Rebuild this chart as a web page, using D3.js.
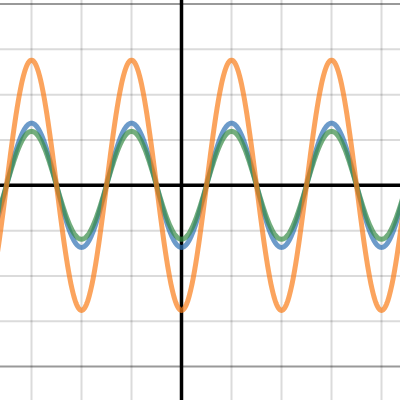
<!DOCTYPE html>
<html>
<head>
<meta charset="utf-8">
<script src="https://cdn.jsdelivr.net/npm/d3@7"></script>
<style>
  html, body { margin: 0; padding: 0; background: #fff; }
  svg { display: block; }
</style>
</head>
<body>
<div id="graph"></div>
<script>
// Series: y = -amplitude * cos(pi * x), period 2 grid units
const seriesNames = ["blue", "green", "orange"];
const seriesColors = ["#2d70b3", "#388c46", "#fa7e19"];
const amplitudes = [1.37, 1.19, 2.76];
const period = 2;

// Grid lines (in graph units)
const xMinorTicks = [-3, -2, -1, 1, 2, 3, 4];
const yMinorTicks = [-3, -2, -1, 1, 2, 3];
const yMajorTicks = [-4, 4];

const width = 400;
const height = 400;

// Scales: 50px per x unit, ~45.3px per y unit, origin at (181.5, 185.3)
const x = d3.scaleLinear()
    .domain([-181.5 / 50, (width - 181.5) / 50])
    .range([0, width]);
const y = d3.scaleLinear()
    .domain([-(height - 185.3) / 45.33, 185.3 / 45.33])
    .range([height, 0]);

const svg = d3.select('#graph')
    .append('svg')
    .attr('width', width)
    .attr('height', height);

// Minor grid
svg.append('g')
    .selectAll('line')
    .data(xMinorTicks)
    .join('line')
    .attr('x1', d => x(d)).attr('x2', d => x(d))
    .attr('y1', 0).attr('y2', height)
    .attr('stroke', '#000')
    .attr('stroke-opacity', 0.14)
    .attr('stroke-width', 2);

svg.append('g')
    .selectAll('line')
    .data(yMinorTicks)
    .join('line')
    .attr('y1', d => y(d)).attr('y2', d => y(d))
    .attr('x1', 0).attr('x2', width)
    .attr('stroke', '#000')
    .attr('stroke-opacity', 0.14)
    .attr('stroke-width', 2);

// Major grid
svg.append('g')
    .selectAll('line')
    .data(yMajorTicks)
    .join('line')
    .attr('y1', d => y(d)).attr('y2', d => y(d))
    .attr('x1', 0).attr('x2', width)
    .attr('stroke', '#000')
    .attr('stroke-opacity', 0.4)
    .attr('stroke-width', 2);

// Axes
svg.append('line')
    .attr('x1', 0).attr('x2', width)
    .attr('y1', y(0)).attr('y2', y(0))
    .attr('stroke', '#000')
    .attr('stroke-width', 3.5);
svg.append('line')
    .attr('x1', x(0)).attr('x2', x(0))
    .attr('y1', 0).attr('y2', height)
    .attr('stroke', '#000')
    .attr('stroke-width', 3.5);

// Curves
const xs = d3.range(x.domain()[0] - 0.1, x.domain()[1] + 0.1, 0.01);
const line = d3.line()
    .x(d => x(d[0]))
    .y(d => y(d[1]));

seriesNames.forEach((name, i) => {
    const pts = xs.map(v => [v, -amplitudes[i] * Math.cos(2 * Math.PI * v / period)]);
    svg.append('path')
        .datum(pts)
        .attr('class', 'curve ' + name)
        .attr('d', line)
        .attr('fill', 'none')
        .attr('stroke', seriesColors[i])
        .attr('stroke-opacity', 0.7)
        .attr('stroke-width', 5)
        .attr('stroke-linejoin', 'round')
        .attr('stroke-linecap', 'round');
});
</script>
</body>
</html>
